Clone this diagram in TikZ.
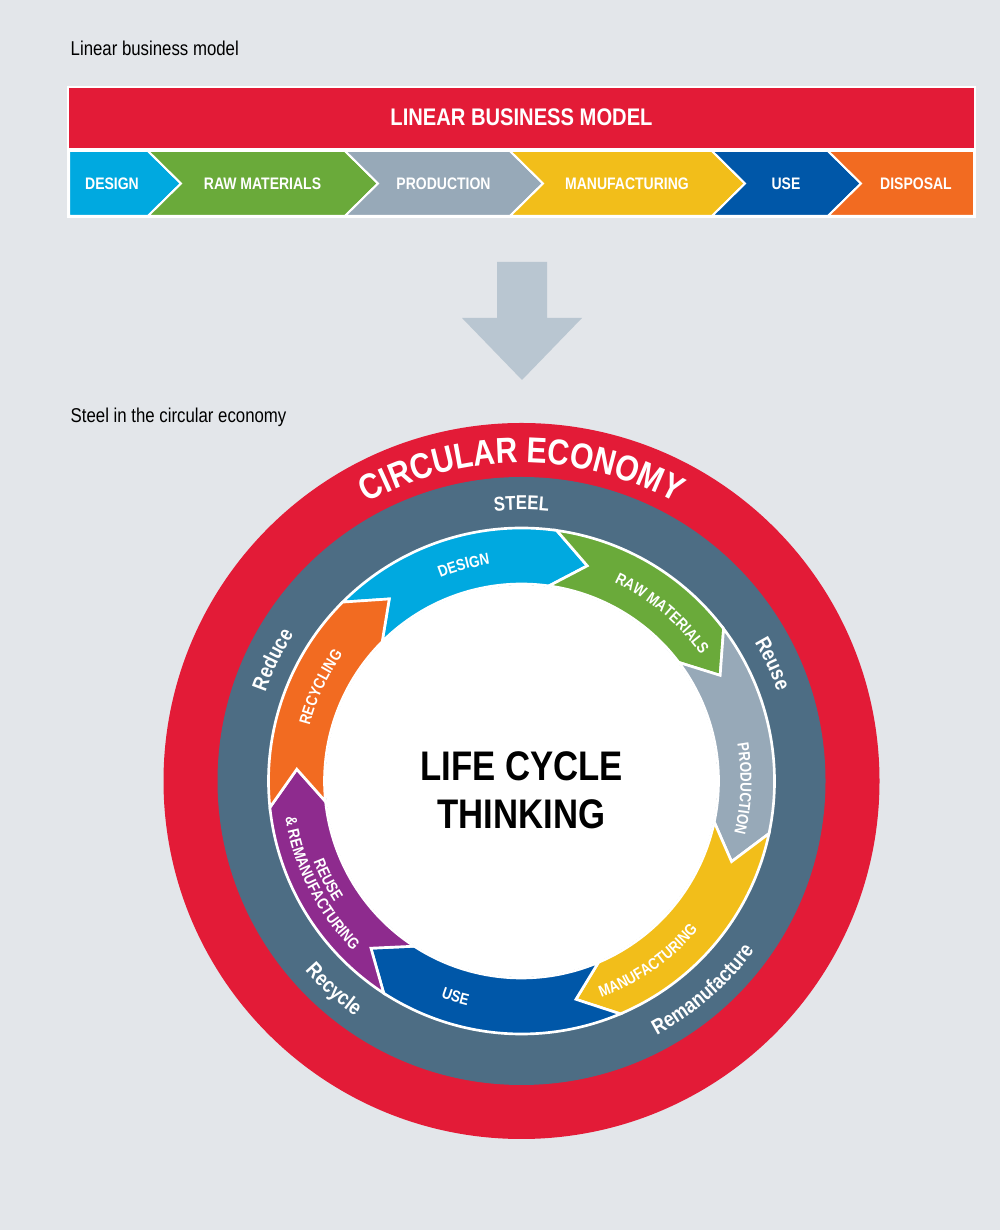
\documentclass[tikz,border=0pt]{standalone}
\usepackage{fontspec}
\setmainfont{Liberation Sans}[FakeStretch=0.84]
\usetikzlibrary{decorations.text}
\definecolor{bg}{HTML}{E3E6EA}
\definecolor{cred}{HTML}{E31B37}
\definecolor{cdesign}{HTML}{00A9E0}
\definecolor{craw}{HTML}{6AAA3A}
\definecolor{cprod}{HTML}{97A9B8}
\definecolor{cmanu}{HTML}{F2BE1A}
\definecolor{cuse}{HTML}{0057A8}
\definecolor{cdisp}{HTML}{F26B21}
\definecolor{cpurp}{HTML}{8E2B8E}
\definecolor{csteel}{HTML}{4D6D84}
\definecolor{carrow}{HTML}{B9C6D1}
\newcommand\chevlab{\fontsize{12.5}{13}\selectfont\bfseries}
\newcommand\ringlab{\fontsize{12}{12}\selectfont\bfseries}
\newcommand\cwtext[5]{\path[decorate,decoration={text along path,text align=center,text color=white,text={|#4|#5}}] ({#1+#3}:#2) arc[start angle={#1+#3},end angle={#1-#3},radius=#2];}
\newcommand\ccwtext[5]{\path[decorate,decoration={text along path,text align=center,text color=white,text={|#4|#5}}] ({#1-#3}:#2) arc[start angle={#1-#3},end angle={#1+#3},radius=#2];}
\newcommand\seg[3]{\fill[#3,draw=white,line width=2] (#1:253) arc[start angle=#1,end angle=#2,radius=253] -- ({#2-9}:225) -- (#2:197) arc[start angle=#2,end angle=#1,radius=197] -- ({#1-9}:225) -- cycle;}
\newcommand\chev[4]{\fill[#3,draw=white,line width=1.5] (#1,1079) -- (#2,1079) -- ({#2+33},1046.5) -- (#2,1014) -- (#1,1014) -- ({#1+33},1046.5) -- cycle;
 \node[text=white,font=\chevlab] at ({(#1+#2)/2+16},1046.5) {#4};}
\begin{document}
\begin{tikzpicture}[x=0.75pt,y=0.75pt]
\fill[bg] (0,0) rectangle (1000,1230);
\node[anchor=west,font=\fontsize{15}{16}\selectfont] (t1) at (66,1182) {Linear business model};
\fill[white] (67,1012) rectangle (976,1144);
\fill[cred] (69,1082) rectangle (974,1142);
\node[text=white,font=\fontsize{18}{18}\selectfont\bfseries] (lbm) at (521.5,1113) {LINEAR BUSINESS MODEL};
\fill[cdesign,draw=white,line width=1.5] (69,1079) -- (148,1079) -- (181,1046.5) -- (148,1014) -- (69,1014) -- cycle;
\node[text=white,font=\chevlab] (d1) at (112,1046.5) {DESIGN};
\chev{148}{345}{craw}{RAW MATERIALS}
\chev{345}{510}{cprod}{PRODUCTION}
\chev{510}{712}{cmanu}{MANUFACTURING}
\chev{712}{828}{cuse}{USE}
\fill[cdisp,draw=white,line width=1.5] (828,1079) -- (974,1079) -- (974,1014) -- (828,1014) -- (861,1046.5) -- cycle;
\node[text=white,font=\chevlab] (d6) at (916,1046.5) {DISPOSAL};
% big arrow
\fill[carrow] (497,968) -- (547,968) -- (547,912) -- (582,912) -- (522,850) -- (462,912) -- (497,912) -- cycle;
\node[anchor=west,font=\fontsize{15}{16}\selectfont] (t2) at (66,813) {Steel in the circular economy};
\begin{scope}[shift={(521.5,449)}]
\fill[cred] (0,0) circle (358);
\fill[csteel] (0,0) circle (304);
\seg{135}{82}{cdesign}
\seg{82}{37}{craw}
\seg{37}{-12}{cprod}
\seg{-12}{-67}{cmanu}
\seg{-67}{-123}{cuse}
\seg{-123}{-174}{cpurp}
\seg{186}{135}{cdisp}
\fill[white] (0,0) circle (196);
\node[font=\fontsize{31}{36}\selectfont\bfseries,align=center] (lct) at (0,-9) {LIFE CYCLE\\THINKING};
\cwtext{90}{318}{70}{\fontsize{27}{27}\selectfont\bfseries}{CIRCULAR ECONOMY}
\cwtext{90}{271}{40}{\fontsize{15}{15}\selectfont\bfseries}{STEEL}
\cwtext{154}{271}{40}{\fontsize{16}{16}\selectfont\bfseries}{Reduce}
\cwtext{25}{271}{40}{\fontsize{16}{16}\selectfont\bfseries}{Reuse}
\ccwtext{-132}{288}{40}{\fontsize{16}{16}\selectfont\bfseries}{Recycle}
\ccwtext{-49}{288}{50}{\fontsize{16}{16}\selectfont\bfseries}{Remanufacture}
\cwtext{105}{219}{50}{\ringlab}{DESIGN}
\cwtext{50}{219}{50}{\ringlab}{RAW MATERIALS}
\cwtext{-2}{219}{50}{\ringlab}{PRODUCTION}
\cwtext{155}{219}{50}{\ringlab}{RECYCLING}
\ccwtext{-55}{231}{50}{\ringlab}{MANUFACTURING}
\ccwtext{-107}{231}{40}{\ringlab}{USE}
\ccwtext{-153}{223}{50}{\ringlab}{REUSE}
\ccwtext{-153}{239}{50}{\ringlab}{{\&} REMANUFACTURING}
\end{scope}
\end{tikzpicture}
\end{document}
